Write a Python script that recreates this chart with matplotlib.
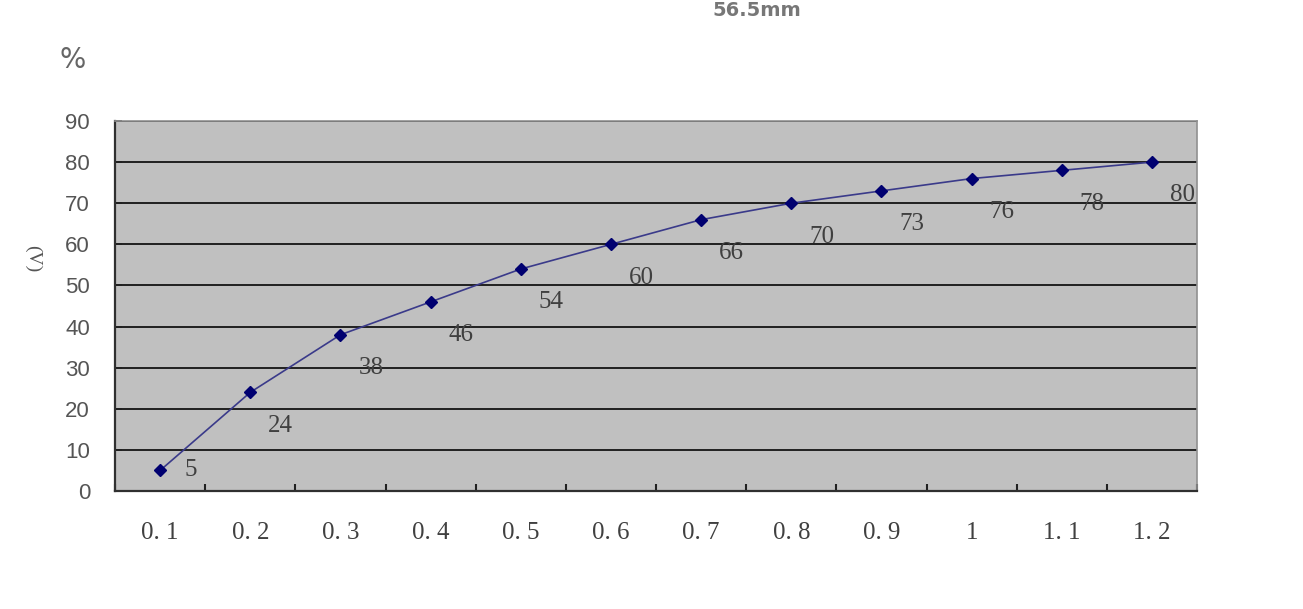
import matplotlib.pyplot as plt
import numpy as np

# 数据
x_labels = ["0. 1", "0. 2", "0. 3", "0. 4", "0. 5", "0. 6",
            "0. 7", "0. 8", "0. 9", "1", "1. 1", "1. 2"]
values = [5, 24, 38, 46, 54, 60, 66, 70, 73, 76, 78, 80]

fig = plt.figure(figsize=(13.03, 6.09), dpi=100)
ax = fig.add_axes([0.0883, 0.1938, 0.8304, 0.6075])

x = np.arange(len(values))
ax.set_facecolor("#c0c0c0")
ax.plot(x, values, color="#3a3a8a", lw=1.2, marker="D", ms=6,
        mfc="#000070", mec="#000070", zorder=3)

# 数据标签（右下方）
for xi, v in zip(x, values):
    dy = 0 if v == 5 else -24
    ax.annotate(str(v), (xi, v), xytext=(22, dy), textcoords="offset points",
                ha="center", va="center", fontsize=18, color="#404040",
                family="Liberation Serif", zorder=4)

ax.set_xlim(-0.5, len(values) - 0.5)
ax.set_ylim(0, 90)
ax.set_yticks(range(0, 91, 10))
ax.yaxis.grid(True, color="#202020", lw=1.4)
ax.set_axisbelow(True)

ax.set_xticks(x)
ax.set_xticklabels(x_labels, family="Liberation Serif", fontsize=18, color="#404040")
ax.set_xticks(np.arange(-0.5, len(values)), minor=True)
ax.tick_params(axis="x", which="major", length=0, pad=22)
ax.tick_params(axis="x", which="minor", direction="in", length=5, width=1.5, color="#202020")
ax.tick_params(axis="y", direction="in", length=5, width=1.2, color="#202020",
               labelsize=16, labelcolor="#555555", pad=18)
for lab in ax.get_yticklabels():
    lab.set_family("Liberation Sans")

for s in ["left", "bottom"]:
    ax.spines[s].set_color("#303030")
    ax.spines[s].set_linewidth(1.6)
for s in ["right", "top"]:
    ax.spines[s].set_color("#909090")
    ax.spines[s].set_linewidth(1.2)

fig.text(0.056, 0.902, "%", fontsize=20, color="#666666", ha="center", va="center")
fig.text(0.025, 0.576, "(V)", rotation=270, fontsize=14, color="#555555",
         ha="center", va="center", family="Liberation Serif")
fig.text(0.581, 0.998, "56.5mm", fontsize=14, color="#777777", ha="center",
         va="top", fontweight="bold")

fig.savefig("out.png", dpi=100, facecolor="white")
